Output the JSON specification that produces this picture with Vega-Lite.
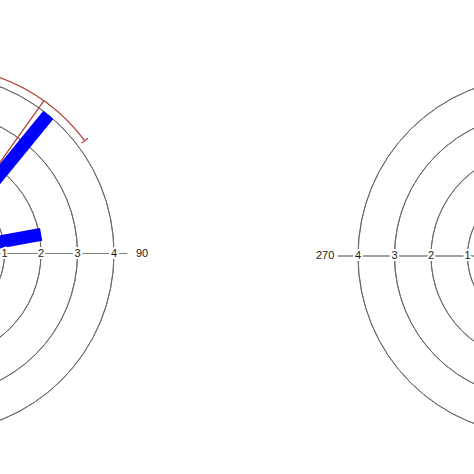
{
  "$schema": "https://vega.github.io/schema/vega-lite/v6.json",
  "width": 474,
  "height": 474,
  "padding": 0,
  "autosize": {"type": "none"},
  "background": "white",
  "config": {"view": {"stroke": null}},
  "datasets": {
    "rings": [
      {"plot": "A", "a": 0, "a2": 360, "r": 1},
      {"plot": "A", "a": 0, "a2": 360, "r": 2},
      {"plot": "A", "a": 0, "a2": 360, "r": 3},
      {"plot": "A", "a": 0, "a2": 360, "r": 4},
      {"plot": "B", "a": 0, "a2": 360, "r": 1},
      {"plot": "B", "a": 0, "a2": 360, "r": 2},
      {"plot": "B", "a": 0, "a2": 360, "r": 3},
      {"plot": "B", "a": 0, "a2": 360, "r": 4}
    ],
    "spokes": [
      {"plot": "A", "a": 90, "r": 4.36},
      {"plot": "B", "a": 270, "r": 4.55}
    ],
    "bars": [
      {"plot": "A", "a": 39.3, "r": 4.0},
      {"plot": "A", "a": 79.8, "r": 2.05}
    ],
    "spread": [
      {"plot": "A", "a": 35.5, "a2": 35.5, "r": 0, "r2": 4.23},
      {"plot": "A", "a": 18, "a2": 53, "r": 4.23, "r2": 4.23},
      {"plot": "A", "a": 53, "a2": 53, "r": 4.12, "r2": 4.34},
      {"plot": "A", "a": 18, "a2": 18, "r": 4.12, "r2": 4.34}
    ],
    "labels": [
      {"plot": "A", "a": 90, "r": 1, "text": "1"},
      {"plot": "A", "a": 90, "r": 2, "text": "2"},
      {"plot": "A", "a": 90, "r": 3, "text": "3"},
      {"plot": "A", "a": 90, "r": 4, "text": "4"},
      {"plot": "A", "a": 90, "r": 4.77, "text": "90"},
      {"plot": "B", "a": 270, "r": 1, "text": "1"},
      {"plot": "B", "a": 270, "r": 2, "text": "2"},
      {"plot": "B", "a": 270, "r": 3, "text": "3"},
      {"plot": "B", "a": 270, "r": 4, "text": "4"},
      {"plot": "B", "a": 270, "r": 4.9, "text": "270"}
    ]
  },
  "encoding": {
    "x": {"field": "plot", "type": "nominal", "axis": null,
          "scale": {"type": "point", "domain": ["A", "B"], "range": [-65, 537], "padding": 0}},
    "y": {"field": "plot", "type": "nominal", "axis": null,
          "scale": {"type": "point", "domain": ["A", "B"], "range": [253.5, 256], "padding": 0}}
  },
  "layer": [
    {
      "data": {"name": "rings"},
      "mark": {"type": "arc", "filled": false, "stroke": "#6a6a6a", "strokeWidth": 1},
      "encoding": {
        "theta": {"field": "a", "type": "quantitative", "stack": null,
                  "scale": {"domain": [0, 360], "range": [0, 6.283185307179586]}},
        "theta2": {"field": "a2"},
        "radius": {"field": "r", "type": "quantitative",
                   "scale": {"type": "linear", "domain": [0, 4], "range": [33, 179], "zero": false}},
        "radius2": {"field": "r"}
      }
    },
    {
      "data": {"name": "spokes"},
      "mark": {"type": "arc", "filled": false, "stroke": "#808080", "strokeWidth": 1, "strokeJoin": "bevel"},
      "encoding": {
        "theta": {"field": "a", "type": "quantitative", "stack": null},
        "theta2": {"field": "a"},
        "radius": {"field": "r", "type": "quantitative"},
        "radius2": {"datum": 0}
      }
    },
    {
      "data": {"name": "bars"},
      "mark": {"type": "arc", "filled": false, "stroke": "#0000ff", "strokeWidth": 13, "strokeJoin": "bevel"},
      "encoding": {
        "theta": {"field": "a", "type": "quantitative", "stack": null},
        "theta2": {"field": "a"},
        "radius": {"field": "r", "type": "quantitative"},
        "radius2": {"datum": 0}
      }
    },
    {
      "data": {"name": "spread"},
      "mark": {"type": "arc", "filled": false, "stroke": "#b23c37", "strokeWidth": 1.2, "strokeJoin": "bevel"},
      "encoding": {
        "theta": {"field": "a", "type": "quantitative", "stack": null},
        "theta2": {"field": "a2"},
        "radius": {"field": "r", "type": "quantitative"},
        "radius2": {"field": "r2"}
      }
    },
    {
      "data": {"name": "labels"},
      "mark": {"type": "text", "font": "Liberation Sans", "fontSize": 11, "align": "center", "baseline": "middle",
               "fill": "white", "stroke": "white", "strokeWidth": 4},
      "encoding": {
        "theta": {"field": "a", "type": "quantitative", "stack": null},
        "radius": {"field": "r", "type": "quantitative"},
        "text": {"field": "text"}
      }
    },
    {
      "data": {"name": "labels"},
      "mark": {"type": "text", "font": "Liberation Sans", "fontSize": 11, "align": "center", "baseline": "middle",
               "fill": "#1a1a1a", "stroke": null},
      "encoding": {
        "theta": {"field": "a", "type": "quantitative", "stack": null},
        "radius": {"field": "r", "type": "quantitative"},
        "text": {"field": "text"}
      }
    }
  ]
}
